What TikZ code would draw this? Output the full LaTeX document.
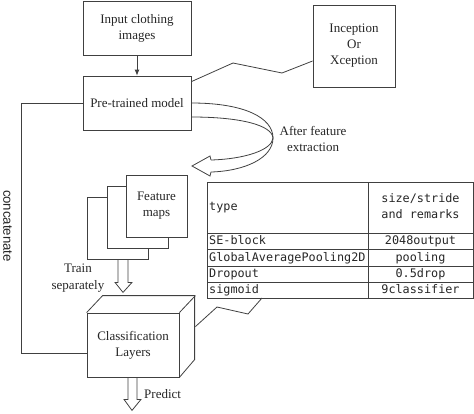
\documentclass[tikz,border=0pt]{standalone}
\usepackage{fontspec}
\setmainfont{Liberation Serif}
\newfontfamily\tabfont{DejaVu Sans Mono}
\newfontfamily\lblsans{Liberation Sans}
\usetikzlibrary{arrows.meta}
\begin{document}
\begin{tikzpicture}[x=1pt,y=-1pt,
  ln/.style={draw=black!75, line width=0.8pt, line join=miter},
  box/.style={ln, fill=white, inner sep=0pt, align=center, text=black!85,
    font=\fontsize{13}{16}\selectfont},
  lbl/.style={inner sep=0pt, align=center, text=black!85,
    font=\fontsize{13}{16}\selectfont},
  cell/.style={inner sep=0pt, text=black!85, text height=9pt, text depth=2.5pt,
    font=\tabfont\fontsize{11.8}{16}\selectfont}
]
\useasboundingbox (0,0) rectangle (474,413);

% main boxes
\node[box, minimum width=108, minimum height=54] (input) at (137,28) {Input clothing\\images};
\node[box, minimum width=108, minimum height=54] (pre) at (137,103) {Pre-trained model};
\node[box, minimum width=82, minimum height=82] (incep) at (354,46) {Inception\\Or\\Xception};

\draw[ln, -{Latex[length=6pt,width=5pt]}] (input) -- (pre);
\draw[ln] ([yshift=-6pt]pre.north east) -- (233,63) -- (282,73) -- ([yshift=-15pt]incep.west);

% curved ribbon arrow
\coordinate (ribU) at (211,160);
\coordinate (ribL) at (211,172);
\draw[ln] (pre.east) .. controls (245,103) and (273,118) .. (273,138)
  .. controls (273,158) and (245,171) .. (ribL);
\draw[ln] ([yshift=-14pt]pre.east) .. controls (240,117) and (272,125) .. (273,138)
  .. controls (272,150) and (245,159) .. (ribU);
\draw[ln] (ribU) -- (210,156) -- (192,166) -- (210,176) -- (ribL);
\node[lbl] (after) at (313,139) {After feature\\extraction};

% feature maps stack
\node[box, minimum width=61, minimum height=62] (fm3) at (117.5,228) {};
\node[box, minimum width=61, minimum height=62] (fm2) at (137.5,217) {};
\node[box, minimum width=61, minimum height=62] (fm1) at (156.5,206) {Feature\\maps};

% hollow arrow train
\draw[ln] ([xshift=0.5pt]fm3.south) -- ++(0,23) -- ++(-3,0) -- ++(8,10) -- ++(9,-10) -- ++(-4,0) -- ++(0,-23);
\node[lbl, font=\fontsize{13}{17}\selectfont] (train) at (78,278) {Train\\separately};

% classification 3D box
\node[box, minimum width=92, minimum height=64] (cls) at (133,345) {Classification\\Layers};
\draw[ln] (cls.north west) -- ++(16,-17) -- ++(92,0) -- ++(0,64) -- (cls.south east);
\draw[ln] (cls.north east) -- ++(16,-17);

% predict arrow
\draw[ln] ([xshift=-5pt]cls.south) -- ++(0,22) -- ++(-4,0) -- ++(8,11) -- ++(9,-11) -- ++(-4,0) -- ++(0,-22);
\node[lbl, anchor=west] (pred) at (144,394) {Predict};

% concatenate
\draw[ln] (pre.west) -| (21,353) -- ([yshift=-8pt]cls.west);
\node[lbl, font=\lblsans\fontsize{13.2}{16}\selectfont, rotate=-90] (concat) at (7.5,226) {concatenate};

% table
\node[ln, inner sep=0pt, minimum width=266, minimum height=116, anchor=north west] (tbl) at (207,182) {};
\draw[ln] (368,182) -- (368,298);
\draw[ln] (207,233) -- (473,233);
\draw[ln] (207,249.5) -- (473,249.5);
\draw[ln] (207,266) -- (473,266);
\draw[ln] (207,282) -- (473,282);
\node[cell, anchor=west] (c11) at (209,207.5) {type};
\node[cell, align=center, text height=, text depth=] (c12) at (420.5,206) {size/stride\\and remarks};
\node[cell, anchor=west] (c21) at (209,241.5) {SE-block};
\node[cell] (c22) at (420.5,241.5) {2048output};
\node[cell, anchor=west] (c31) at (209,258) {GlobalAveragePooling2D};
\node[cell] (c32) at (420.5,258) {pooling};
\node[cell, anchor=west] (c41) at (209,274) {Dropout};
\node[cell] (c42) at (420.5,274) {0.5drop};
\node[cell, anchor=west] (c51) at (209,290) {sigmoid};
\node[cell] (c52) at (420.5,290) {9classifier};

% table to classification connector
\coordinate (tbot) at (262,298);
\draw[ln] ([shift={(16,14)}]cls.north east) -- (217,307) -- (248,314) -- (tbot);

\end{tikzpicture}
\end{document}
